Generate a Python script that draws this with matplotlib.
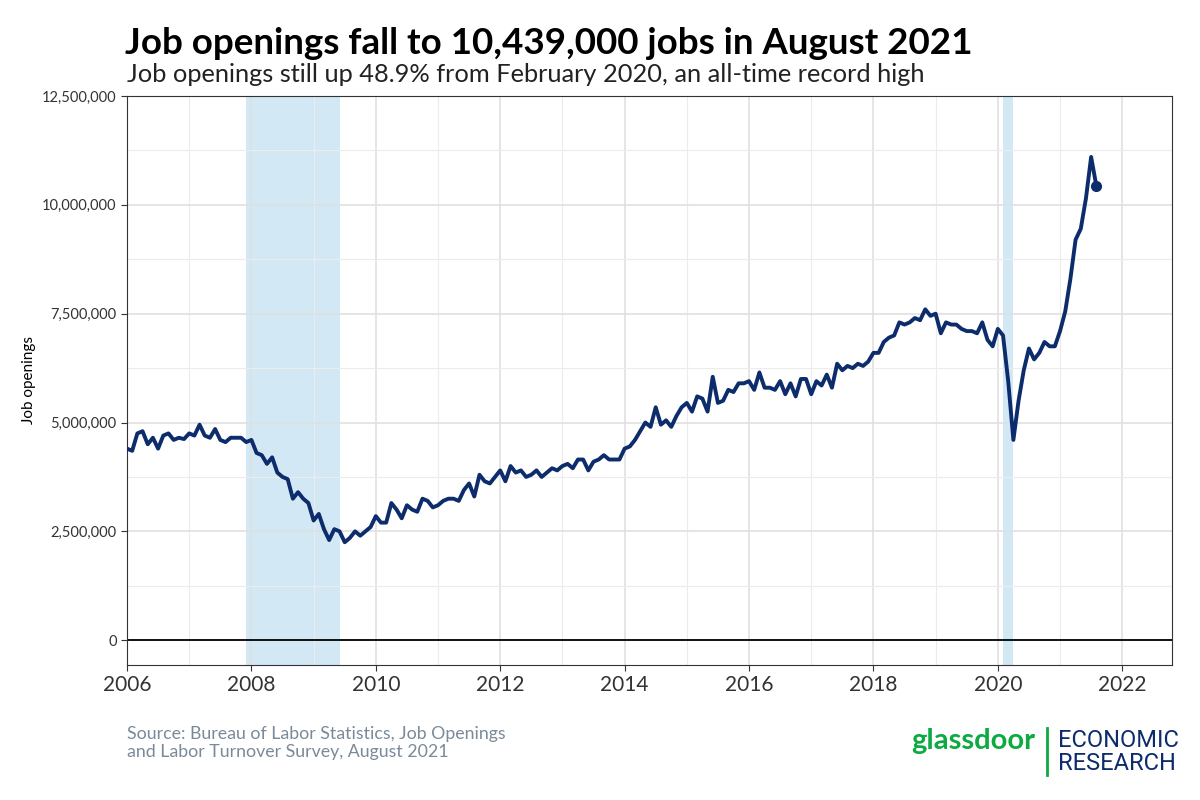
import matplotlib
matplotlib.use("Agg")
import matplotlib.pyplot as plt
import numpy as np
import matplotlib.ticker as mt

start_year = 2006
openings_k = [
 4400,4350,4750,4800,4500,4650,4400,4700,4750,4600,4650,4620,
 4750,4700,4950,4700,4650,4850,4600,4550,4650,4650,4650,4550,
 4600,4300,4250,4050,4200,3850,3750,3700,3250,3400,3250,3150,
 2750,2900,2550,2300,2550,2500,2250,2350,2500,2400,2500,2600,
 2850,2700,2700,3150,3000,2800,3100,3000,2950,3250,3200,3050,
 3100,3200,3250,3250,3200,3450,3600,3300,3800,3650,3600,3750,
 3900,3650,4000,3850,3900,3750,3800,3900,3750,3850,3950,3900,
 4000,4050,3950,4150,4150,3900,4100,4150,4250,4150,4150,4150,
 4400,4450,4600,4800,5000,4900,5350,4950,5050,4900,5150,5350,
 5450,5250,5600,5550,5250,6050,5450,5500,5750,5700,5900,5900,
 5950,5750,6150,5800,5800,5750,5950,5650,5900,5600,6000,6000,
 5650,5950,5850,6100,5800,6350,6200,6300,6250,6350,6300,6400,
 6600,6600,6850,6950,7000,7300,7250,7300,7400,7350,7600,7450,
 7500,7050,7300,7250,7250,7150,7100,7100,7050,7300,6900,6750,
 7150,7000,5950,4600,5500,6200,6700,6450,6600,6850,6750,6750,
 7100,7550,8300,9200,9450,10150,11100,10439]
recessions = [(2007 + 11/12, 2009 + 5/12), (2020 + 1/12, 2020 + 3/12)]

vals = np.array(openings_k) * 1000
x = start_year + np.arange(len(vals)) / 12

plt.rcParams['font.family'] = ['Lato', 'DejaVu Sans']
fig = plt.figure(figsize=(12, 8), dpi=100)
ax = fig.add_axes([127/1200, 135/800, 1045/1200, 569/800])
for a, b in recessions:
    ax.axvspan(a, b, color='#d3e8f5', zorder=0, lw=0)
ax.plot(x, vals, color='#0c2c6b', lw=2.8, zorder=3)
ax.plot(x[-1], vals[-1], 'o', color='#0c2c6b', ms=7, zorder=4)
ax.axhline(0, color='black', lw=1.3, zorder=2)
ax.set_xlim(2006, 2022.8)
ax.set_ylim(-570000, 12500000)
ax.set_xticks(range(2006, 2023, 2))
ax.xaxis.set_minor_locator(mt.MultipleLocator(1))
ax.yaxis.set_major_locator(mt.MultipleLocator(2500000))
ax.yaxis.set_minor_locator(mt.MultipleLocator(1250000))
ax.yaxis.set_major_formatter(mt.FuncFormatter(lambda v, p: f"{int(v):,}"))
ax.grid(which='major', color='#e0e0e0', lw=1.2)
ax.grid(which='minor', color='#ececec', lw=0.8)
ax.set_axisbelow(True)
for s in ax.spines.values():
    s.set_color('#333333'); s.set_linewidth(0.8)
ax.tick_params(axis='x', labelsize=15, colors='#333333', length=4)
ax.tick_params(axis='y', labelsize=10.5, colors='#333333', length=4)
ax.tick_params(which='minor', length=0)
ax.set_ylabel('Job openings', fontsize=11)

fig.text(125/1200, 1 - 43/800, 'Job openings fall to 10,439,000 jobs in August 2021',
         fontsize=26.5, fontweight='bold', va='center')
fig.text(127/1200, 1 - 74/800, 'Job openings still up 48.9% from February 2020, an all-time record high',
         fontsize=18.3, va='center', color='#222222')
fig.text(127/1200, 1 - 743/800, 'Source: Bureau of Labor Statistics, Job Openings\nand Labor Turnover Survey, August 2021',
         fontsize=12.8, color='#7a8a99', va='center', linespacing=1.2)
fig.text(1035/1200, 1 - 741/800, 'glassdoor', fontsize=21, fontweight='bold', color='#0caa41',
         ha='right', va='center')
fig.add_artist(plt.Line2D([1047/1200, 1047/1200], [1 - 728/800, 1 - 775/800], color='#0caa41', lw=2))
fig.text(1058/1200, 1 - 752/800, 'ECONOMIC\nRESEARCH', fontsize=17, color='#0c2c6b',
         ha='left', va='center', linespacing=1.0, family=['Roboto', 'DejaVu Sans'], stretch='condensed')
fig.savefig('out.png', dpi=100)
